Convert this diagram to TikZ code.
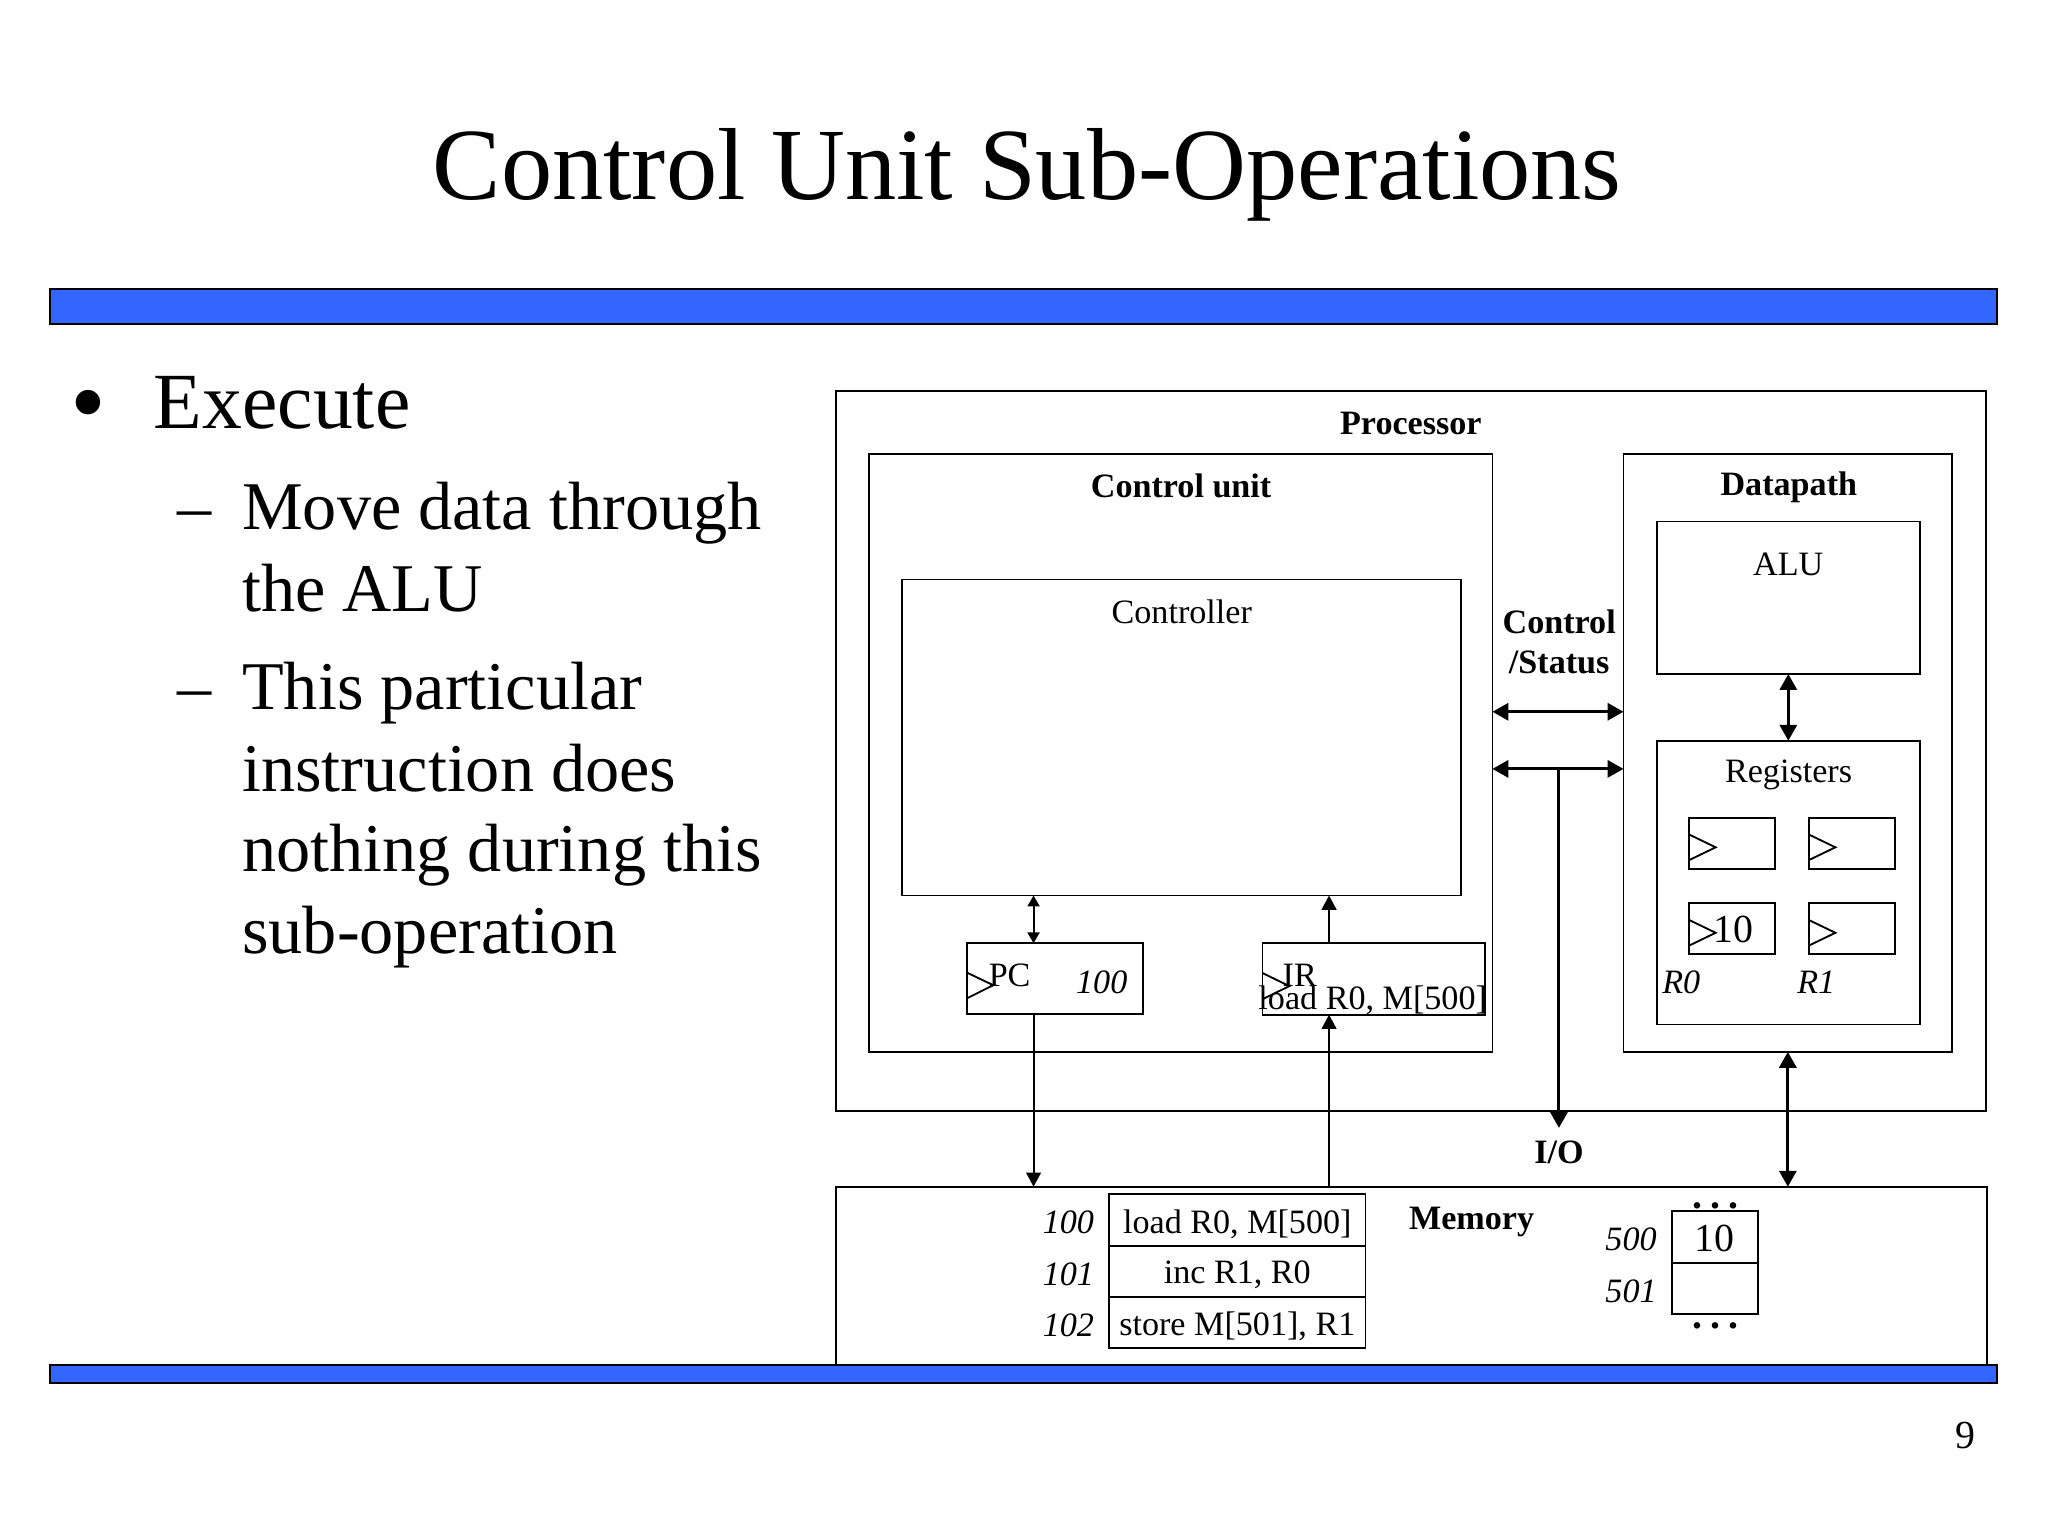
\documentclass[tikz,border=0pt]{standalone}
\usepackage{fontspec}
\setmainfont{Liberation Serif}
\usetikzlibrary{arrows.meta,fit}
\definecolor{barblue}{RGB}{51,102,255}
\newcommand{\myfs}[1]{\fontsize{#1}{#1}\selectfont}
\begin{document}
\begin{tikzpicture}[x=0.45949pt, y=-0.45949pt,
  box/.style={draw, line width=0.65pt, inner sep=0pt, outer sep=0pt},
  bar/.style={draw, line width=0.7pt, fill=barblue, inner sep=0pt, outer sep=0pt},
  lbl/.style={inner sep=0pt, font=\myfs{12}},
  blbl/.style={inner sep=0pt, font=\myfs{12}\bfseries},
  ilbl/.style={inner sep=0pt, font=\myfs{12}\itshape},
  big/.style={inner sep=0pt, font=\myfs{14}},
  clk/.style={line width=0.65pt},
  darr/.style={line width=1.05pt, {Triangle[width=6pt,length=5.6pt]}-{Triangle[width=6pt,length=5.6pt]}},
  sarr/.style={line width=1.05pt, -{Triangle[width=6pt,length=5.6pt]}},
  tdarr/.style={line width=0.7pt, {Triangle[width=4.2pt,length=3.8pt]}-{Triangle[width=4.2pt,length=3.8pt]}},
  tsarr/.style={line width=0.7pt, -{Triangle[width=5.2pt,length=5pt]}},
  txt/.style={inner sep=0pt, anchor=base west, font=\myfs{24}},
]
\useasboundingbox (0,0) rectangle (1567,1175.1);

% ---------- title and bars ----------
\node[inner sep=0pt, anchor=base, font=\myfs{36}] (title) at (786,152.5) {Control Unit Sub-Operations};
\node[bar, fit={(38.3,221.4) (1528,248.1)}] (topbar) {};

% ---------- bullet text ----------
\node[inner sep=0pt, font=\myfs{36}] (bul) at (67.6,316) {•};
\node[inner sep=0pt, anchor=base west, font=\myfs{28}] (exec) at (117.3,327.7) {Execute};
\node[txt] (dash1) at (135.2,405.5) {–};
\node[txt] (l1) at (184.9,405.5) {Move data through};
\node[txt] (l2) at (184.9,468) {the ALU};
\node[txt] (dash2) at (135.2,543.2) {–};
\node[txt] (l3) at (184.9,543.2) {This particular};
\node[txt] (l4) at (184.9,605.7) {instruction does};
\node[txt] (l5) at (184.9,667) {nothing during this};
\node[txt] (l6) at (184.9,729.4) {sub-operation};

% ---------- processor ----------
\node[box, fit={(639.4,298.9) (1519.3,849.8)}] (proc) {};
\node[blbl] (proclbl) at (1079.5,324.2) {Processor};

% control unit
\node[box, fit={(665.1,347.1) (1141.9,804.8)}] (cu) {};
\node[blbl] (culbl) at (903.7,372) {Control unit};
\node[box, fit={(690,443.4) (1118,685.2)}] (ctl) {};
\node[lbl] (ctllbl) at (904.2,468.3) {Controller};

% PC register
\node[box, fit={(739.9,721.7) (874.8,776)}] (pc) {};
\draw[clk] (739.9,744.2) -- (760,753.8) -- (739.9,763.8);
\node[lbl] (pclbl) at (772.5,746) {PC};
\node[ilbl] (pcval) at (843,751.7) {100};

% IR register
\node[box, fit={(966,721.8) (1136.1,776.4)}] (ir) {};
\draw[clk] (966,744.5) -- (986.5,754.5) -- (966,764.5);
\node[lbl] (irlbl) at (994.5,746.5) {IR};
\node[lbl] (irval) at (1050.3,765.5) {load R0, M[500]};

% datapath
\node[box, fit={(1242.2,347.1) (1493.7,804.8)}] (dp) {};
\node[blbl] (dplbl) at (1368.7,372.5) {Datapath};
\node[box, fit={(1267.6,399) (1469,515.7)}] (alu) {};
\node[lbl] (alulbl) at (1368.3,432.2) {ALU};
\node[box, fit={(1267.6,566.8) (1469,783.9)}] (regs) {};
\node[lbl] (regslbl) at (1368.5,592.9) {Registers};

\node[box, fit={(1292.2,625.8) (1358.1,665)}] (ra) {};
\node[box, fit={(1383.8,625.8) (1449.6,665)}] (rb) {};
\node[box, fit={(1292.2,691.2) (1358.1,730.1)}] (rc) {};
\node[box, fit={(1383.8,691.2) (1449.6,730.1)}] (rd) {};
\draw[clk] (1292.2,638.4) -- (1312.7,648.3) -- (1292.2,658.2);
\draw[clk] (1383.8,638.4) -- (1404.3,648.3) -- (1383.8,658.2);
\draw[clk] (1292.2,703.8) -- (1312.7,713.7) -- (1292.2,723.6);
\draw[clk] (1383.8,703.8) -- (1404.3,713.7) -- (1383.8,723.6);
\node[big] (rcval) at (1326.4,711.5) {10};
\node[ilbl] (r0lbl) at (1286.4,751.5) {R0};
\node[ilbl] (r1lbl) at (1389.7,751.5) {R1};

% control/status
\node[blbl] (cslbl1) at (1193,475.5) {Control};
\node[blbl] (cslbl2) at (1193,506.6) {/Status};
\coordinate (cs1) at (1192.8,544.6);
\coordinate (io) at (1192.8,588.3);
\coordinate (iotip) at (1192.8,863);
\node[blbl] (iolbl) at (1192.8,881.5) {I/O};

% ---------- memory ----------
\node[box, fit={(639.4,908) (1520.1,1044.4)}] (mem) {};
\node[blbl] (memlbl) at (1126,935) {Memory};
\node[box, fit={(848.6,913.8) (1044.8,953.3)}] (m0) {};
\node[box, fit={(848.6,953.3) (1044.8,992.1)}] (m1) {};
\node[box, fit={(848.6,992.1) (1044.8,1031.6)}] (m2) {};
\node[lbl, yshift=-1.3pt] (m0t) at (m0) {load R0, M[500]};
\node[lbl, yshift=-1.3pt] (m1t) at (m1) {inc R1, R0};
\node[lbl, yshift=-1.3pt] (m2t) at (m2) {store M[501], R1};
\node[ilbl, anchor=east] (a0) at (837.5,935.5) {100};
\node[ilbl, anchor=east] (a1) at (837.5,974.7) {101};
\node[ilbl, anchor=east] (a2) at (837.5,1013.8) {102};

\node[box, fit={(1279,926.6) (1345,966.6)}] (d0) {};
\node[box, fit={(1279,966.6) (1345,1005.4)}] (d1) {};
\node[big, yshift=-0.5pt] (d0t) at (d0) {10};
\node[ilbl, anchor=east] (a500) at (1268,948.5) {500};
\node[ilbl, anchor=east] (a501) at (1268,988.1) {501};
\node[inner sep=0pt, font=\myfs{14}\bfseries] (dtop) at (1312.3,922.5) {.\hspace{2.8pt}.\hspace{2.8pt}.};
\node[inner sep=0pt, font=\myfs{14}\bfseries] (dbot) at (1312.3,1014.5) {.\hspace{2.8pt}.\hspace{2.8pt}.};

% ---------- connectors ----------
\coordinate (pcx) at (790.8,0);
\coordinate (irx) at (1016.9,0);
\draw[tdarr] (ctl.south -| pcx) -- (pc.north -| pcx);
\draw[tsarr] (ir.north -| irx) -- (ctl.south -| irx);
\draw[tsarr] (pc.south -| pcx) -- (mem.north -| pcx);
\draw[tsarr] (mem.north -| irx) -- (ir.south -| irx);
\draw[darr] (cu.east |- cs1) -- (dp.west |- cs1);
\draw[darr] (cu.east |- io) -- (dp.west |- io);
\draw[sarr] (io) -- (iotip);
\draw[darr] (alu.south) -- (regs.north);
\draw[darr] (dp.south) -- (mem.north -| dp.south);

% bottom bar and page number
\node[bar, fit={(38.3,1044.4) (1528,1057.9)}] (botbar) {};
\node[inner sep=0pt, anchor=base, font=\myfs{14}] (pgnum) at (1504.2,1108) {9};
\end{tikzpicture}
\end{document}
